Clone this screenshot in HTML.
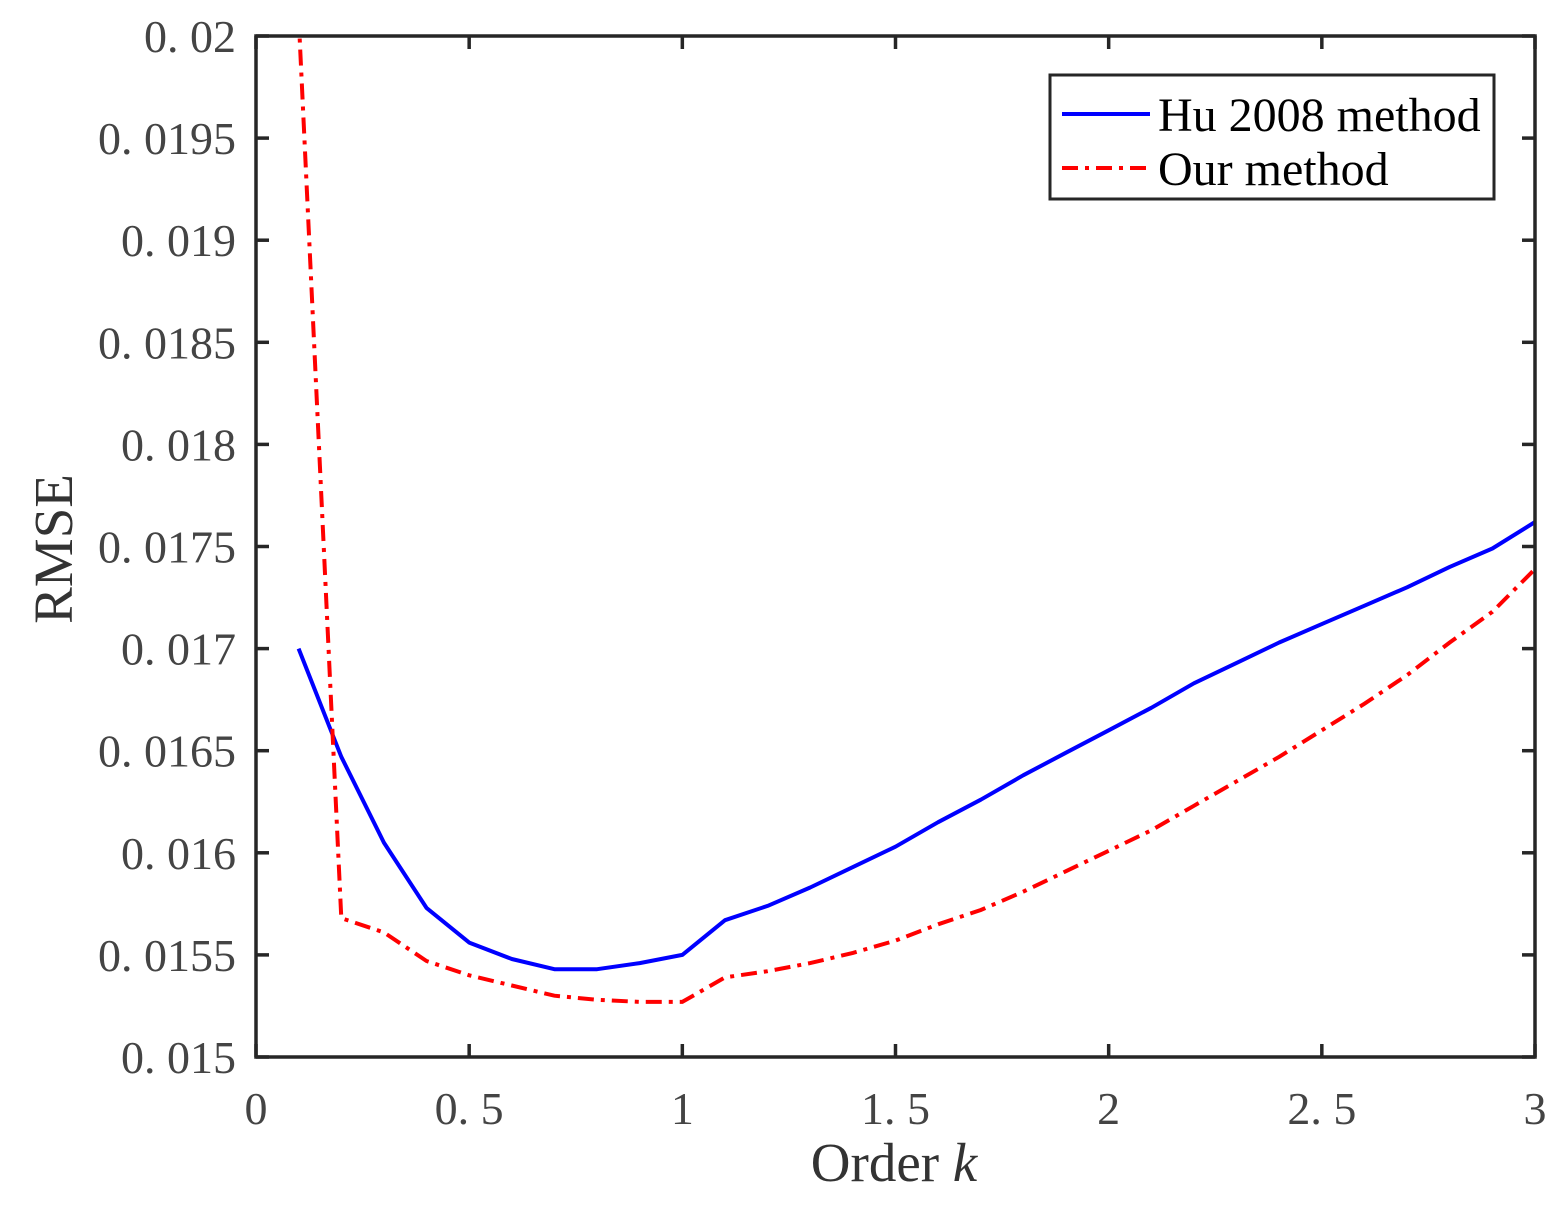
<!DOCTYPE html>
<html><head><meta charset="utf-8"><style>
html,body{margin:0;padding:0;background:#fff;}
svg{display:block;}
text{font-family:"Liberation Serif","Noto Serif CJK SC",serif;}
</style></head><body>
<svg id="chart" width="1567" height="1205" viewBox="0 0 1567 1205">
<defs><clipPath id="plotclip"><rect x="256" y="36" width="1279" height="1021"/></clipPath></defs>
<g id="series" clip-path="url(#plotclip)"></g>
<rect x="256" y="36" width="1279" height="1021" fill="none" stroke="#262626" stroke-width="3.5"/>
<g id="ticks"></g>
<text x="894" y="1181" font-size="55" fill="#333" text-anchor="middle">Order <tspan font-style="italic">k</tspan></text>
<text transform="translate(72,549) rotate(-90)" font-size="55" fill="#333" text-anchor="middle">RMSE</text>
<g>
<rect x="1050" y="75" width="444" height="124" fill="#fff" stroke="#262626" stroke-width="3"/>
<line x1="1062" y1="114" x2="1150" y2="114" stroke="#0000ff" stroke-width="4"/>
<text x="1158" y="131" font-size="48" fill="#000">Hu 2008 method</text>
<line x1="1062" y1="168" x2="1150" y2="168" stroke="#ff0000" stroke-width="4" stroke-dasharray="16,7,4,7"/>
<text x="1158" y="185" font-size="48" fill="#000">Our method</text>
</g>
</svg>
<script>
const kValues = [0.1,0.2,0.3,0.4,0.5,0.6,0.7,0.8,0.9,1.0,1.1,1.2,1.3,1.4,1.5,1.6,1.7,1.8,1.9,2.0,2.1,2.2,2.3,2.4,2.5,2.6,2.7,2.8,2.9,3.0];
const huValues = [0.01700,0.01647,0.01605,0.01573,0.01556,0.01548,0.01543,0.01543,0.01546,0.01550,0.01567,0.01574,0.01583,0.01593,0.01603,0.01615,0.01626,0.01638,0.01649,0.01660,0.01671,0.01683,0.01693,0.01703,0.01712,0.01721,0.01730,0.01740,0.01749,0.01762];
const ourValues = [0.0201,0.01568,0.01561,0.01547,0.01540,0.01535,0.01530,0.01528,0.01527,0.01527,0.01539,0.01542,0.01546,0.01551,0.01557,0.01565,0.01572,0.01581,0.01591,0.01601,0.01611,0.01623,0.01635,0.01647,0.01660,0.01673,0.01687,0.01703,0.01718,0.01739];
const xTicks = [0,0.5,1,1.5,2,2.5,3];
const xTickLabels = ["0","0. 5","1","1. 5","2","2. 5","3"];
const yTicks = [0.015,0.0155,0.016,0.0165,0.017,0.0175,0.018,0.0185,0.019,0.0195,0.02];
const yTickLabels = ["0. 015","0. 0155","0. 016","0. 0165","0. 017","0. 0175","0. 018","0. 0185","0. 019","0. 0195","0. 02"];

const X0=256,X1=1535,Y0=1057,Y1=36;
const xScale=v=>X0+(v-0)/(3-0)*(X1-X0);
const yScale=v=>Y0-(v-0.015)/(0.02-0.015)*(Y0-Y1);
const NS="http://www.w3.org/2000/svg";
const ticks=document.getElementById('ticks');
const series=document.getElementById('series');
function mk(tag,attrs,parent){const e=document.createElementNS(NS,tag);for(const k in attrs)e.setAttribute(k,attrs[k]);parent.appendChild(e);return e;}

xTicks.forEach((t,i)=>{
  const x=xScale(t);
  const a=mk('line',{x1:x,y1:Y0,x2:x,y2:Y0-13,stroke:'#262626','stroke-width':3.5},ticks);
  
  
  const b=mk('line',{x1:x,y1:Y1,x2:x,y2:Y1+13,stroke:'#262626','stroke-width':3.5},ticks);
  
  
  const tx=mk('text',{x:x,y:1124,'font-size':46,fill:'#444','text-anchor':'middle'},ticks);
  tx.textContent=xTickLabels[i];
  
  
});
yTicks.forEach((t,i)=>{
  const y=yScale(t);
  const a=mk('line',{x1:X0,y1:y,x2:X0+13,y2:y,stroke:'#262626','stroke-width':3.5},ticks);
  
  
  const b=mk('line',{x1:X1,y1:y,x2:X1-13,y2:y,stroke:'#262626','stroke-width':3.5},ticks);
  
  
  const tx=mk('text',{x:236,y:y+16,'font-size':46,fill:'#444','text-anchor':'end'},ticks);
  tx.textContent=yTickLabels[i];
  
  
});
function pts(vals){return vals.map((v,i)=>xScale(kValues[i]).toFixed(1)+','+yScale(v).toFixed(1)).join(' ');}
const hu=mk('polyline',{points:pts(huValues),fill:'none',stroke:'#0000ff','stroke-width':4,'stroke-linejoin':'round'},series);


const our=mk('polyline',{points:pts(ourValues),fill:'none',stroke:'#ff0000','stroke-width':4,'stroke-dasharray':'16,7,4,7'},series);


</script>
</body></html>
